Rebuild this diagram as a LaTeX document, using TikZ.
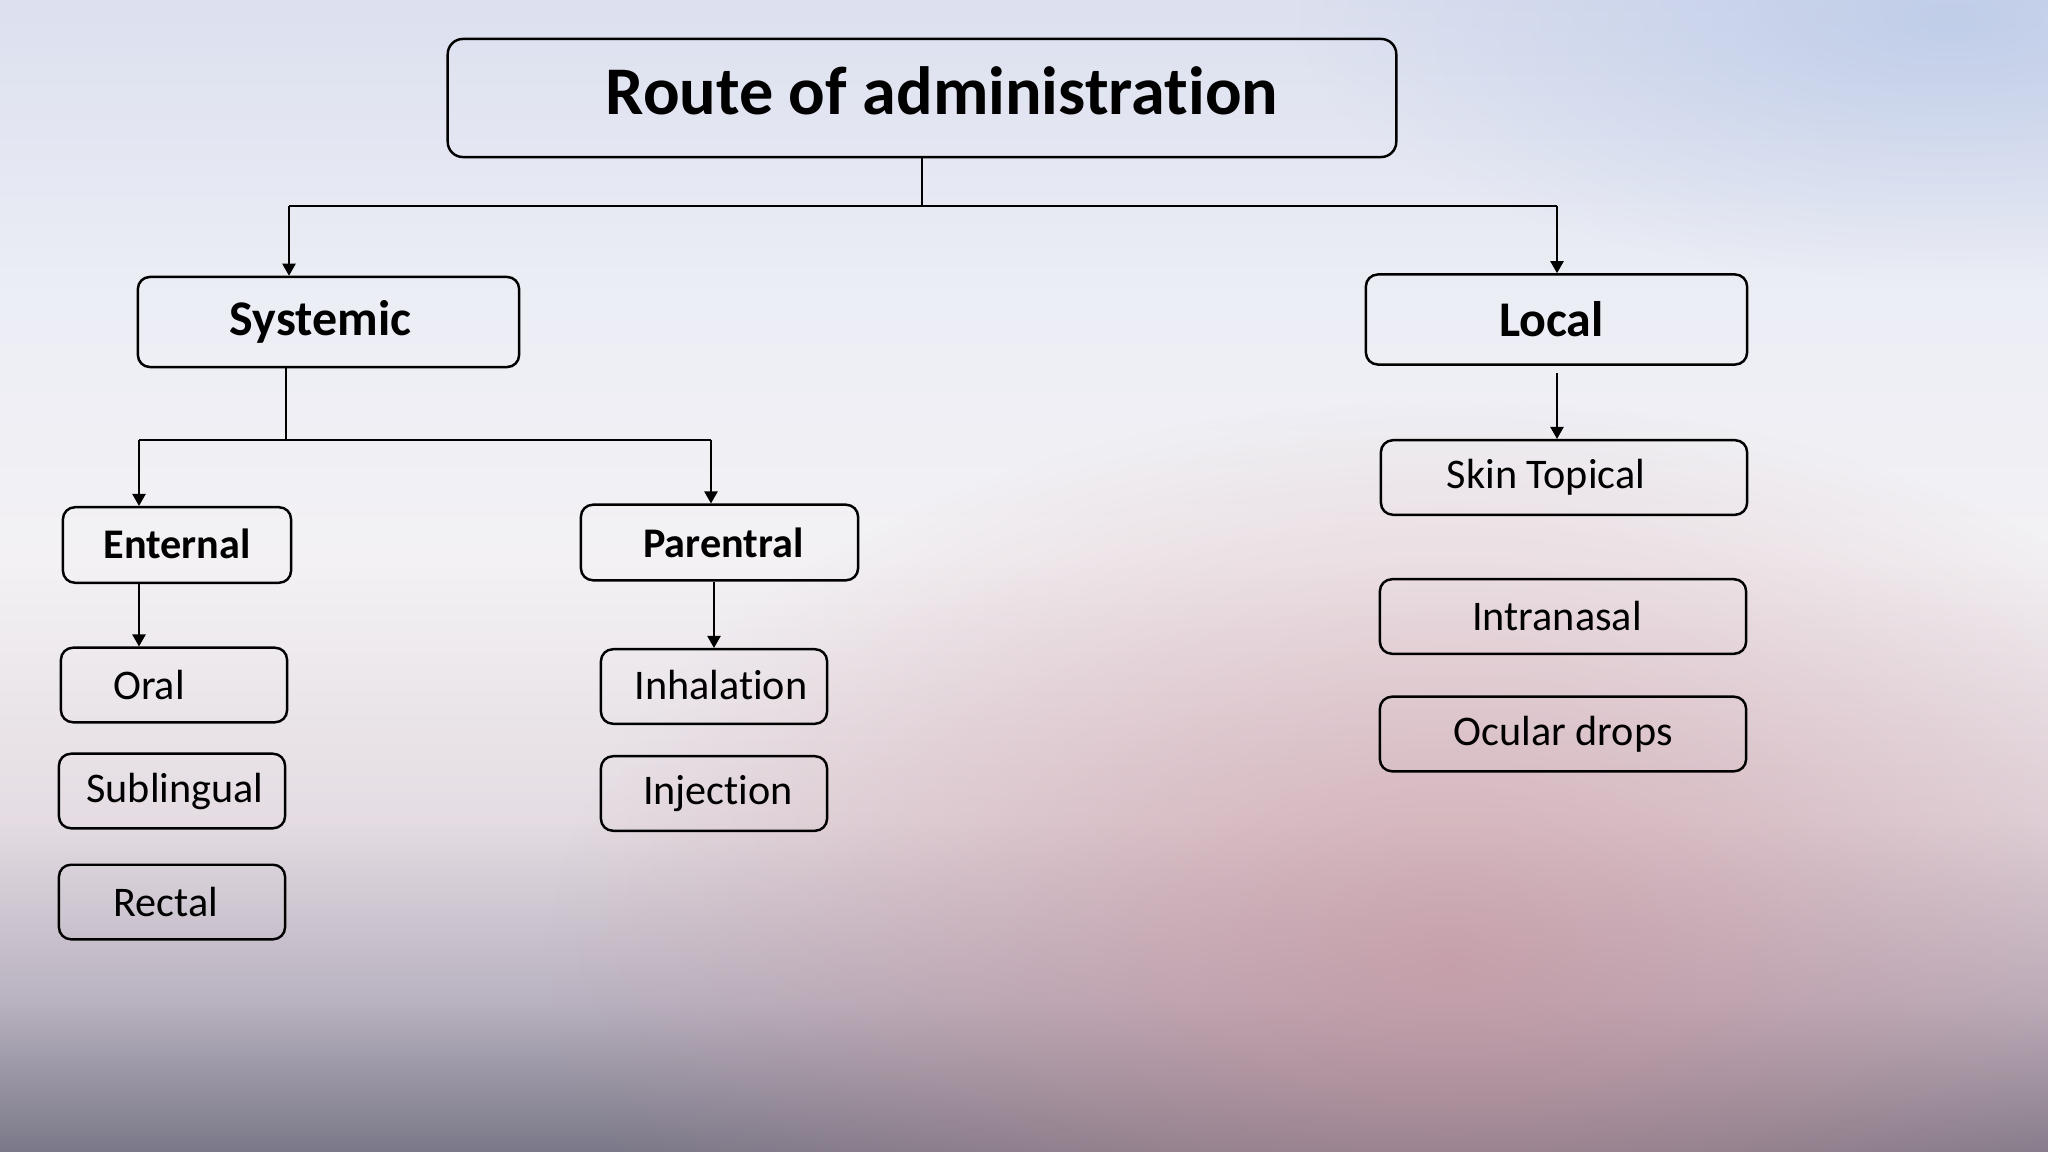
\documentclass[tikz,border=0pt]{standalone}
\usepackage{fontspec}
\setmainfont{Carlito}[Ligatures=NoCommon]
\usetikzlibrary{arrows.meta,fadings}
\definecolor{bgtop}{HTML}{DCE0EF}
\definecolor{bgupper}{HTML}{ECEEF5}
\definecolor{bgmid}{HTML}{F3F1F4}
\definecolor{bgrose}{HTML}{E4DCE2}
\definecolor{bglow}{HTML}{B9B2C0}
\definecolor{bgbot}{HTML}{7A7888}
\definecolor{bgpink}{HTML}{C8939C}
\definecolor{bgblue}{HTML}{B5C6E6}
\pgfdeclareverticalshading{slidebg}{100bp}{color(0bp)=(bgbot); color(25bp)=(bgbot); color(31.6bp)=(bglow); color(39.4bp)=(bgrose); color(50.7bp)=(bgmid); color(62bp)=(bgupper); color(75bp)=(bgtop); color(100bp)=(bgtop)}
\tikzfading[name=softglow, inner color=transparent!0, outer color=transparent!100]
\newcommand{\nudge}[2]{\hspace*{#1}#2\hspace*{-#1}}
\newcommand{\rootfont}{\fontsize{19.4}{23}\selectfont\bfseries}
\newcommand{\groupfont}{\fontsize{14.2}{17}\selectfont\bfseries}
\newcommand{\kindfont}{\fontsize{12}{14}\selectfont\bfseries}
\newcommand{\leaffont}{\fontsize{12}{14}\selectfont}
\begin{document}
\begin{tikzpicture}[x=0.01cm,y=-0.01cm,
    box/.style={draw=black,line width=0.7pt,rounded corners=3.4pt,inner sep=0pt,align=center},
    rootbox/.style={box,minimum width=9.48cm,minimum height=1.18cm,rounded corners=4.3pt,font=\rootfont},
    groupbox/.style={box,minimum width=3.81cm,minimum height=0.9cm,font=\groupfont},
    kindbox/.style={box,minimum height=0.755cm,font=\kindfont},
    leafbox/.style={box,minimum width=2.26cm,minimum height=0.745cm,font=\leaffont},
    lnk/.style={line width=0.6pt},
    arr/.style={line width=0.6pt,-{Triangle[length=0.12cm,width=0.13cm]}}]
    \useasboundingbox (0,0) rectangle (2048,1152);
    \shade[shading=slidebg] (0,0) rectangle (2048,1152);
    \fill[bgpink,path fading=softglow,fill opacity=0.65] (1450,960) ellipse (900 and 560);
    \fill[bgblue,path fading=softglow,fill opacity=0.7] (1950,20) ellipse (650 and 260);

    \node[rootbox] (route) at (922,98) {\raisebox{0.15cm}{\nudge{0.2cm}{Route of administration}}};

    \node[groupbox] (systemic) at (328.5,322) {\nudge{-0.08cm}{Systemic}};
    \node[groupbox] (local) at (1556.5,319.5) {\nudge{-0.05cm}{Local}};

    \node[kindbox,minimum width=2.28cm] (enternal) at (177,545) {\raisebox{0.03cm}{Enternal}};
    \node[kindbox,minimum width=2.77cm] (parentral) at (719.5,542.5) {\nudge{0.04cm}{Parentral}};

    \node[leafbox] (oral) at (174,685) {\nudge{-0.25cm}{Oral}};
    \node[leafbox] (sublingual) at (172,791) {\nudge{0.03cm}{Sublingual}};
    \node[leafbox] (rectal) at (172,902) {\nudge{-0.06cm}{Rectal}};
    \node[leafbox] (inhalation) at (714,686.5) {\raisebox{0.04cm}{\nudge{0.07cm}{Inhalation}}};
    \node[leafbox] (injection) at (714,793.5) {\raisebox{-0.04cm}{\nudge{0.04cm}{Injection}}};
    \node[leafbox,minimum width=3.66cm] (skin) at (1564,477.5) {\nudge{-0.18cm}{Skin Topical}};
    \node[leafbox,minimum width=3.66cm] (intranasal) at (1563,616.5) {\nudge{-0.06cm}{Intranasal}};
    \node[leafbox,minimum width=3.66cm] (ocular) at (1563,734) {Ocular drops};

    \coordinate (splitL) at (289,206);
    \coordinate (splitR) at (1557,206);
    \draw[lnk] (route.south) -- (route.south |- splitL);
    \draw[lnk] (splitL) -- (splitR);
    \draw[arr] (splitL) -- (splitL |- systemic.north);
    \draw[arr] (splitR) -- (splitR |- local.north);

    \coordinate (sysL) at (139,440);
    \coordinate (sysR) at (711,440);
    \coordinate (sysDrop) at (286,440);
    \draw[lnk] (sysDrop |- systemic.south) -- (sysDrop);
    \draw[lnk] (sysL) -- (sysR);
    \draw[arr] (sysL) -- (sysL |- enternal.north);
    \draw[arr] (sysR) -- (sysR |- parentral.north);

    \draw[arr] (sysL |- enternal.south) -- (sysL |- oral.north);
    \draw[arr] (inhalation.north |- parentral.south) -- (inhalation.north);
    \draw[arr,shorten <=0.07cm] (splitR |- local.south) -- (splitR |- skin.north);
\end{tikzpicture}
\end{document}
